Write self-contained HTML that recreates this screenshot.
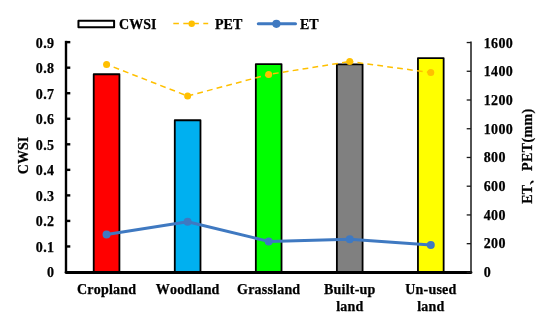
<!DOCTYPE html><html><head><meta charset="utf-8"><title>chart</title><style>html,body{margin:0;padding:0;background:#fff}svg{display:block}text{font-family:"Liberation Serif","Noto Serif CJK SC",serif;font-weight:bold;font-size:14px;fill:#000;font-kerning:none;stroke:#000;stroke-width:.25px}.n{letter-spacing:.35px}.x{letter-spacing:.2px}</style></head><body>
<svg width="550" height="320" viewBox="0 0 550 320">
<rect width="550" height="320" fill="#fff"/>
<rect x="93.72" y="74.27" width="25.7" height="197.74" fill="#ff0000" stroke="#000" stroke-width="1.8" stroke-linejoin="round"/>
<rect x="174.78" y="120.24" width="25.7" height="151.76" fill="#00b0f0" stroke="#000" stroke-width="1.8" stroke-linejoin="round"/>
<rect x="255.83" y="64.05" width="25.7" height="207.95" fill="#00ff00" stroke="#000" stroke-width="1.8" stroke-linejoin="round"/>
<rect x="336.88" y="64.30" width="25.7" height="207.70" fill="#808080" stroke="#000" stroke-width="1.8" stroke-linejoin="round"/>
<rect x="417.94" y="58.05" width="25.7" height="213.95" fill="#ffff00" stroke="#000" stroke-width="1.8" stroke-linejoin="round"/>
<path d="M66.0 40.84V272.4" stroke="#000" stroke-width="2.4" fill="none"/>
<path d="M66.0 272.5H471.0" stroke="#000" stroke-width="2.8" stroke-linecap="round" fill="none"/>
<path d="M66.0 246.46H70.3" stroke="#000" stroke-width="2.4"/>
<path d="M66.0 220.92H70.3" stroke="#000" stroke-width="2.4"/>
<path d="M66.0 195.38H70.3" stroke="#000" stroke-width="2.4"/>
<path d="M66.0 169.84H70.3" stroke="#000" stroke-width="2.4"/>
<path d="M66.0 144.30H70.3" stroke="#000" stroke-width="2.4"/>
<path d="M66.0 118.76H70.3" stroke="#000" stroke-width="2.4"/>
<path d="M66.0 93.22H70.3" stroke="#000" stroke-width="2.4"/>
<path d="M66.0 67.68H70.3" stroke="#000" stroke-width="2.4"/>
<path d="M66.0 42.14H70.3" stroke="#000" stroke-width="2.4"/>
<path d="M471.0 41.54V273.0" stroke="#1a1a1a" stroke-width="1.5" fill="none"/>
<path d="M466.7 272.40H471.0" stroke="#1a1a1a" stroke-width="1.3"/>
<path d="M466.7 243.67H471.0" stroke="#1a1a1a" stroke-width="1.3"/>
<path d="M466.7 214.94H471.0" stroke="#1a1a1a" stroke-width="1.3"/>
<path d="M466.7 186.20H471.0" stroke="#1a1a1a" stroke-width="1.3"/>
<path d="M466.7 157.47H471.0" stroke="#1a1a1a" stroke-width="1.3"/>
<path d="M466.7 128.74H471.0" stroke="#1a1a1a" stroke-width="1.3"/>
<path d="M466.7 100.00H471.0" stroke="#1a1a1a" stroke-width="1.3"/>
<path d="M466.7 71.27H471.0" stroke="#1a1a1a" stroke-width="1.3"/>
<path d="M466.7 42.54H471.0" stroke="#1a1a1a" stroke-width="1.3"/>
<text class="n" x="54.4" y="277.10" text-anchor="end">0</text>
<text class="n" x="54.4" y="251.62" text-anchor="end">0.1</text>
<text class="n" x="54.4" y="226.14" text-anchor="end">0.2</text>
<text class="n" x="54.4" y="200.66" text-anchor="end">0.3</text>
<text class="n" x="54.4" y="175.18" text-anchor="end">0.4</text>
<text class="n" x="54.4" y="149.70" text-anchor="end">0.5</text>
<text class="n" x="54.4" y="124.22" text-anchor="end">0.6</text>
<text class="n" x="54.4" y="98.74" text-anchor="end">0.7</text>
<text class="n" x="54.4" y="73.26" text-anchor="end">0.8</text>
<text class="n" x="54.4" y="47.78" text-anchor="end">0.9</text>
<text class="n" x="483.7" y="277.10">0</text>
<text class="n" x="483.7" y="248.44">200</text>
<text class="n" x="483.7" y="219.77">400</text>
<text class="n" x="483.7" y="191.11">600</text>
<text class="n" x="483.7" y="162.44">800</text>
<text class="n" x="483.7" y="133.78">1000</text>
<text class="n" x="483.7" y="105.11">1200</text>
<text class="n" x="483.7" y="76.45">1400</text>
<text class="n" x="483.7" y="47.78">1600</text>
<path d="M106.57 64.41L187.62 96.01" fill="none" stroke="#ffc000" stroke-width="1.5" stroke-dasharray="5.8 4.2" stroke-dashoffset="2.4"/>
<path d="M187.62 96.01L268.68 74.46" fill="none" stroke="#ffc000" stroke-width="1.5" stroke-dasharray="5.8 4.2" stroke-dashoffset="0"/>
<path d="M268.68 74.46L349.74 61.53" fill="none" stroke="#ffc000" stroke-width="1.5" stroke-dasharray="5.8 4.2" stroke-dashoffset="5.7"/>
<path d="M349.74 61.53L430.79 72.60" fill="none" stroke="#ffc000" stroke-width="1.5" stroke-dasharray="5.8 4.2" stroke-dashoffset="2.2"/>
<circle cx="106.57" cy="64.41" r="3.5" fill="#ffc000"/>
<circle cx="187.62" cy="96.01" r="3.5" fill="#ffc000"/>
<circle cx="268.68" cy="74.46" r="3.5" fill="#ffc000"/>
<circle cx="349.74" cy="61.53" r="3.5" fill="#ffc000"/>
<circle cx="430.79" cy="72.60" r="3.5" fill="#ffc000"/>
<polyline points="106.57,234.50 187.62,221.72 268.68,241.40 349.74,239.24 430.79,244.99" fill="none" stroke="#3f79c1" stroke-width="3" stroke-linejoin="round" stroke-linecap="round"/>
<circle cx="106.57" cy="234.50" r="4" fill="#3f79c1"/>
<circle cx="187.62" cy="221.72" r="4" fill="#3f79c1"/>
<circle cx="268.68" cy="241.40" r="4" fill="#3f79c1"/>
<circle cx="349.74" cy="239.24" r="4" fill="#3f79c1"/>
<circle cx="430.79" cy="244.99" r="4" fill="#3f79c1"/>
<rect x="78.45" y="20.73" width="35.65" height="6.45" fill="#fff" stroke="#000" stroke-width="2" stroke-linejoin="round"/>
<text x="119.1" y="28.5">CWSI</text>
<path d="M173.3 23.6H208.2" stroke="#ffc000" stroke-width="1.5" stroke-dasharray="5.6 4.4"/>
<circle cx="191.7" cy="23.8" r="3.2" fill="#ffc000"/>
<text x="215" y="28.5">PET</text>
<path d="M258.3 23.8H295.5" stroke="#3f79c1" stroke-width="3" stroke-linecap="round"/>
<circle cx="276.4" cy="23.8" r="4.1" fill="#3f79c1"/>
<text x="300" y="28.5">ET</text>
<text transform="translate(27.5 155.5) rotate(-90)" text-anchor="middle">CWSI</text>
<text transform="translate(531.8 203.7) rotate(-90)">ET、<tspan letter-spacing=".4">PET(mm)</tspan></text>
<text class="x" x="106.62" y="294.30" text-anchor="middle">Cropland</text>
<text class="x" x="187.68" y="294.30" text-anchor="middle">Woodland</text>
<text class="x" x="268.73" y="294.30" text-anchor="middle">Grassland</text>
<text class="x" x="349.79" y="294.30" text-anchor="middle">Built-up</text>
<text class="x" x="349.79" y="310.70" text-anchor="middle">land</text>
<text class="x" x="430.84" y="294.30" text-anchor="middle">Un-used</text>
<text class="x" x="430.84" y="310.70" text-anchor="middle">land</text>
</svg></body></html>
